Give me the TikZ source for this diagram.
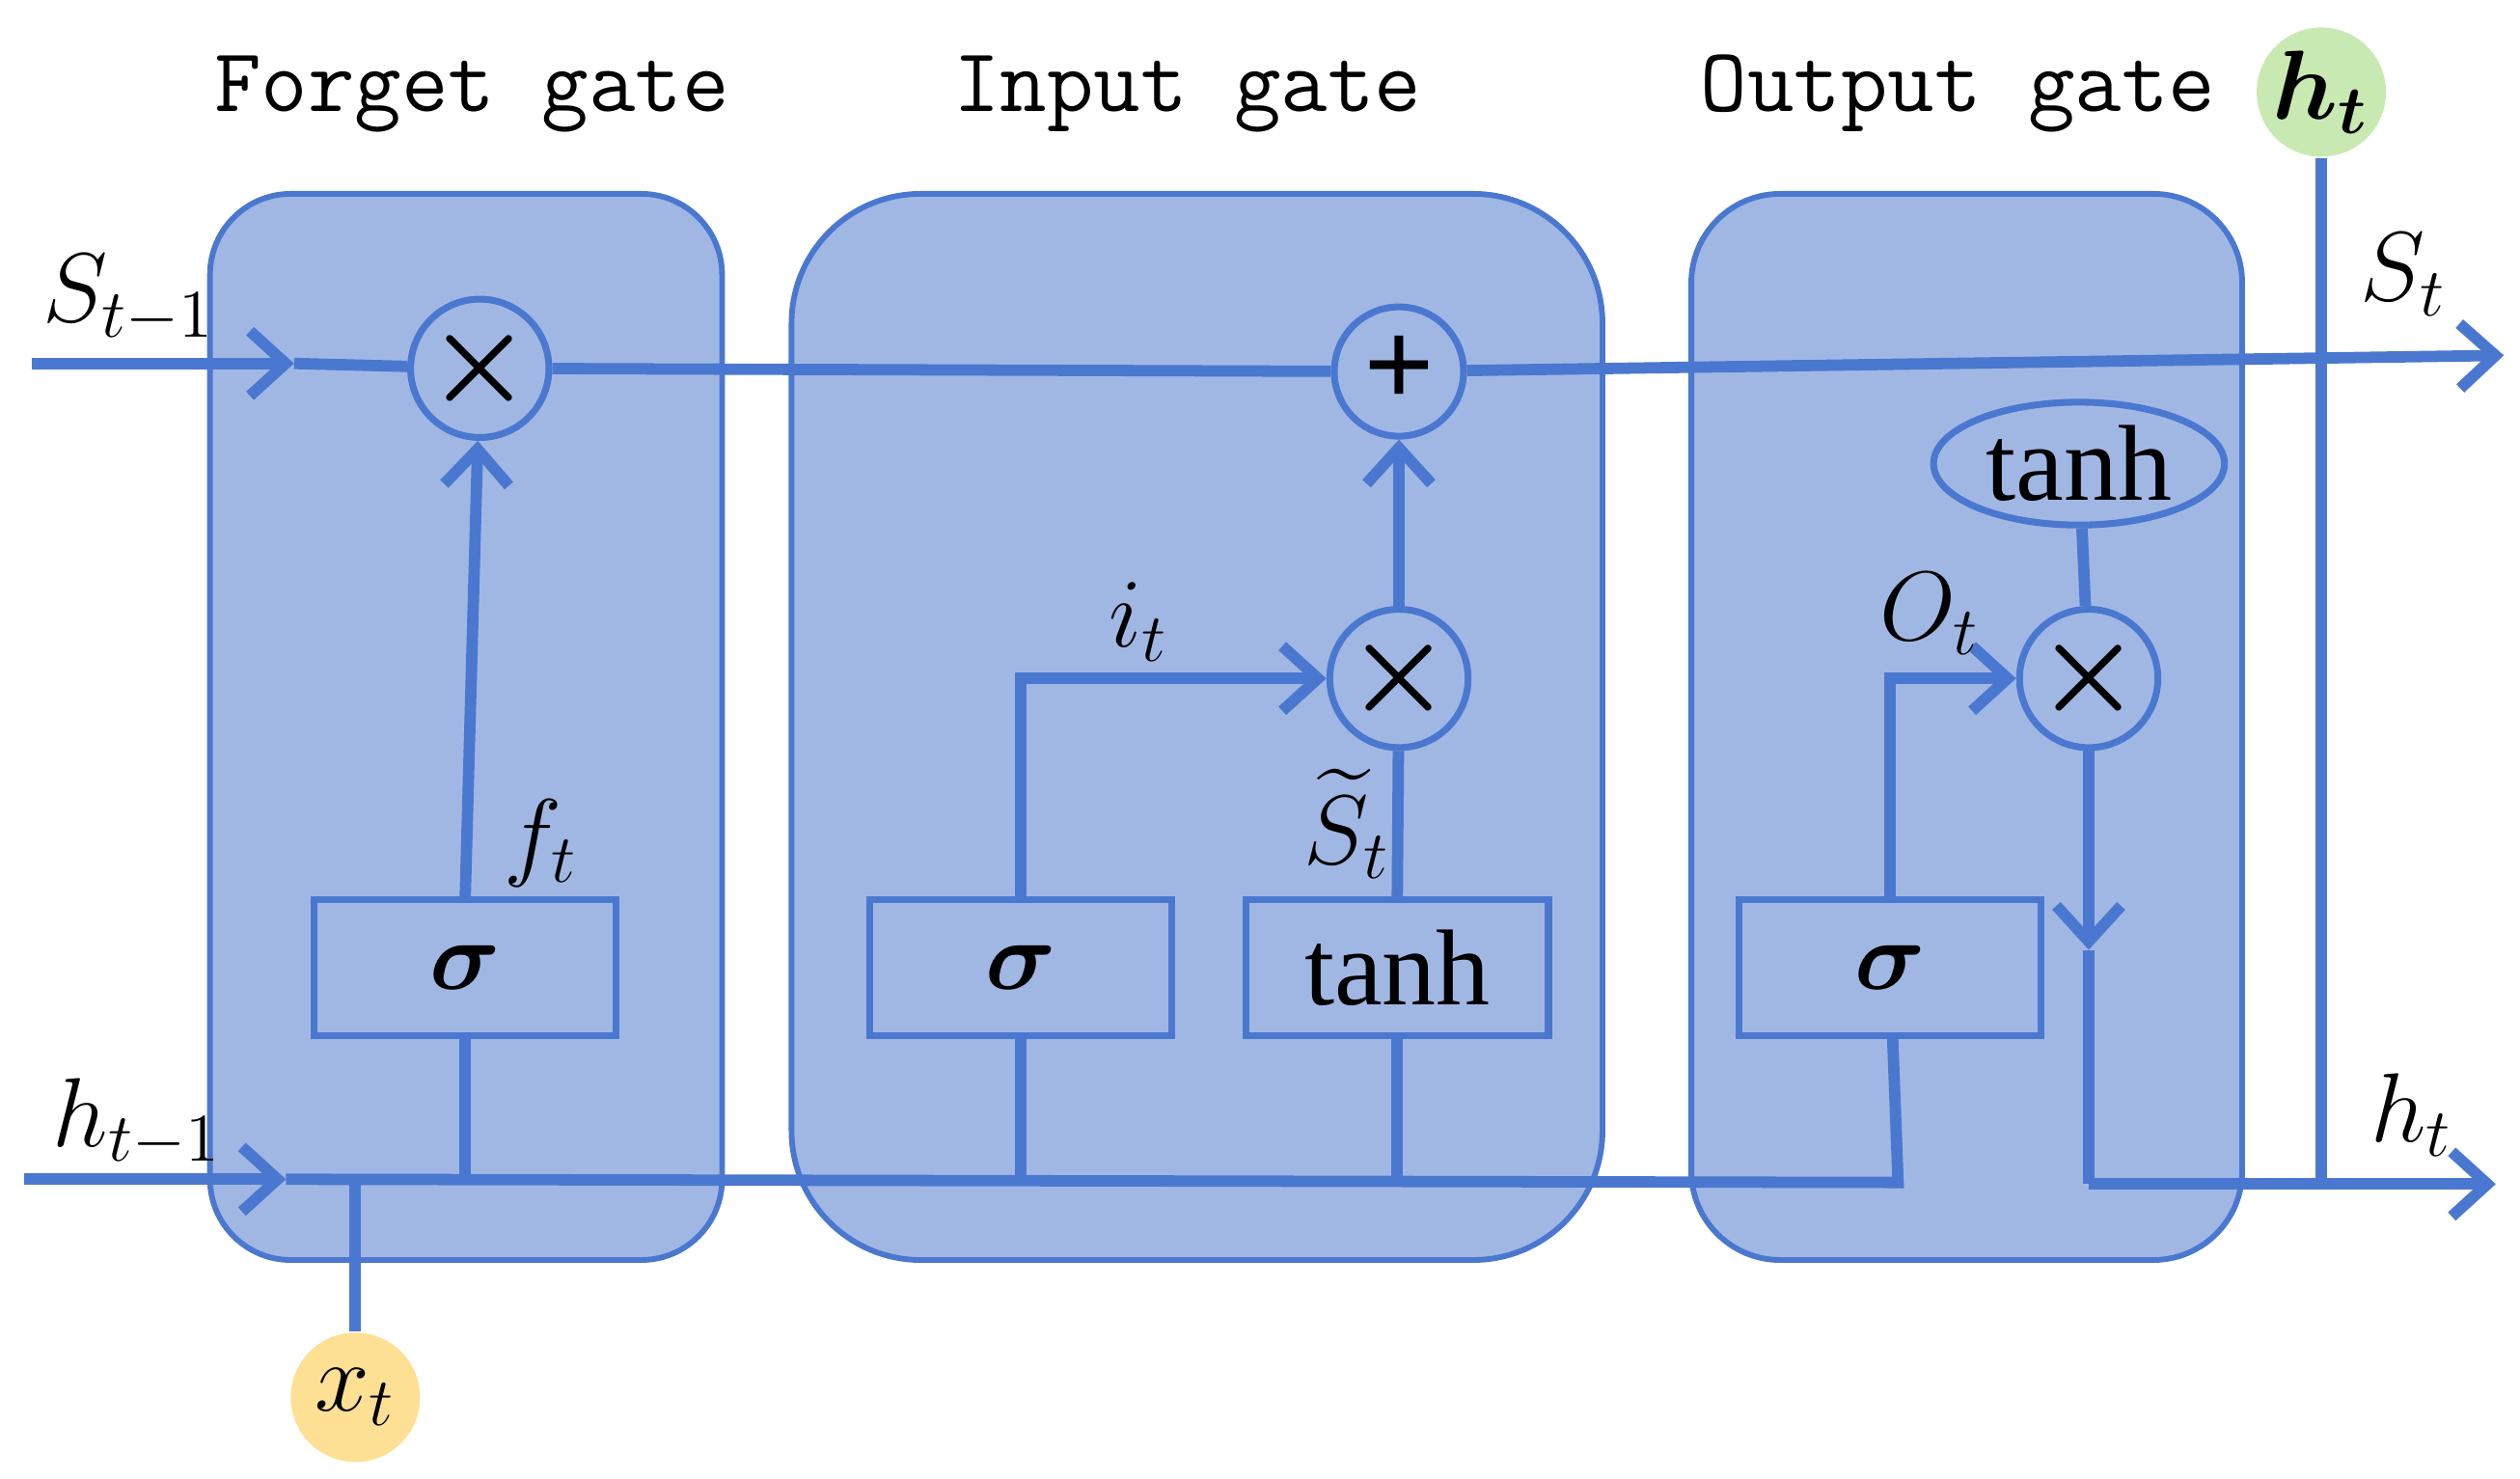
\documentclass[tikz,border=0pt]{standalone}
\usepackage{amsmath,amssymb,bm}
\usepackage{fontspec}
\setmainfont{Liberation Serif}
\usepackage{tikz}
\usetikzlibrary{positioning,shapes.geometric,arrows.meta}
\definecolor{gatefill}{HTML}{A1B7E3}
\definecolor{gateline}{HTML}{4A78D0}
\tikzstyle{gate} = [draw=gateline, fill=gatefill, line width=1pt]
\tikzstyle{op} = [circle, draw=gateline, line width=1.2pt, minimum size=0.8cm, inner sep=0pt, font=\fontsize{22}{22}\selectfont\bfseries]
\tikzstyle{layer} = [rectangle, draw=gateline, line width=1.2pt, minimum width=1.87cm, minimum height=0.84cm, font=\fontsize{19}{19}\selectfont]
\tikzstyle{io} = [circle, minimum size=0.8cm, inner sep=0pt, font=\fontsize{17}{17}\selectfont]
\tikzstyle{wire} = [gateline, line width=2pt]
\tikzstyle{arrow} = [wire, -{Straight Barb[length=2.2mm,width=4mm]}]
\tikzstyle{lbl} = [font=\fontsize{17}{17}\selectfont]
\tikzstyle{title} = [font=\fontsize{16}{16}\selectfont\ttfamily]

\begin{document}
\begin{tikzpicture}[x=0.01cm, y=-0.01cm]
	\useasboundingbox (0,0) rectangle (1560,915);

	\draw[gate, rounded corners=0.5cm] (130,120) rectangle (447,780);
	\draw[gate, rounded corners=0.8cm] (490,120) rectangle (992,780);
	\draw[gate, rounded corners=0.55cm] (1047,120) rectangle (1388,780);

	\node[title] at (292,58) {Forget gate};
	\node[title] at (735,58) {Input gate};
	\node[title] at (1212,58) {Output gate};

	\node (mulF)[op] at (297,228) {$\bm{\times}$};
	\node (add)[op] at (866,230) {+};
	\node (mulI)[op] at (866,420) {$\bm{\times}$};
	\node (mulO)[op] at (1293,420) {$\bm{\times}$};
	\node (tanhO)[ellipse, draw=gateline, line width=1.2pt, inner sep=0pt, minimum width=1.8cm, minimum height=0.76cm, font=\fontsize{19}{19}\selectfont] at (1287,287) {tanh};

	\node (sigF)[layer] at (288,599) {$\bm{\sigma}$};
	\node (sigI)[layer] at (632,599) {$\bm{\sigma}$};
	\node (tanhI)[layer] at (865,599) {tanh};
	\node (sigO)[layer] at (1170,599) {$\bm{\sigma}$};

	\node (xt)[io, fill=yellow!45!orange!40] at (220,865) {$x_t$};
	\node (ht)[io, fill=green!45!olive!30] at (1437,57) {$\bm{h_t}$};

	\coordinate (sIn) at (20,225);
	\coordinate (sMid) at (182,225);
	\coordinate (sOut) at (1550,220);
	\coordinate (hIn) at (15,730);
	\coordinate (hMid) at (177,730);
	\coordinate (hJoin) at (1175,732);
	\coordinate (hTurn) at (1293,733);
	\coordinate (hArr) at (1293,588);
	\coordinate (hOut) at (1545,733);

	% cell state
	\draw[arrow] (sIn) -- (sMid);
	\draw[wire] (sMid) -- (mulF);
	\draw[wire] (mulF) -- (add);
	\draw[arrow] (add) -- (sOut);

	% hidden state
	\draw[arrow] (hIn) -- (hMid);
	\draw[wire] (hMid) -- (hJoin) -- (sigO);
	\draw[wire] (xt) -- (220,730);
	\draw[wire] (sigF.south) -- (sigF.south |- hIn);
	\draw[wire] (sigI.south) -- (sigI.south |- hIn);
	\draw[wire] (tanhI.south) -- (tanhI.south |- hIn);

	% gates
	\draw[arrow] (sigF.north) -- (mulF);
	\draw[arrow] (sigI.north) |- (mulI);
	\draw[wire] (tanhI.north) -- (mulI);
	\draw[arrow] (mulI) -- (add);
	\draw[arrow] (sigO.north) |- (mulO);
	\draw[wire] (tanhO) -- (mulO);
	\draw[arrow] (mulO) -- (hArr);
	\draw[wire] (hArr) -- (hTurn);
	\draw[arrow] (hTurn) -- (hOut);
	\draw[wire] (ht) -- (1437,733);

	\node[lbl] at (80,185) {$S_{t-1}$};
	\node[lbl] at (85,695) {$h_{t-1}$};
	\node[lbl] at (1488,170) {$S_t$};
	\node[lbl] at (1493,690) {$h_t$};
	\node[lbl] at (335,522) {$f_t$};
	\node[lbl] at (705,385) {$i_t$};
	\node[lbl] at (834,510) {$\widetilde{S}_t$};
	\node[lbl] at (1195,380) {$O_t$};
\end{tikzpicture}
\end{document}
